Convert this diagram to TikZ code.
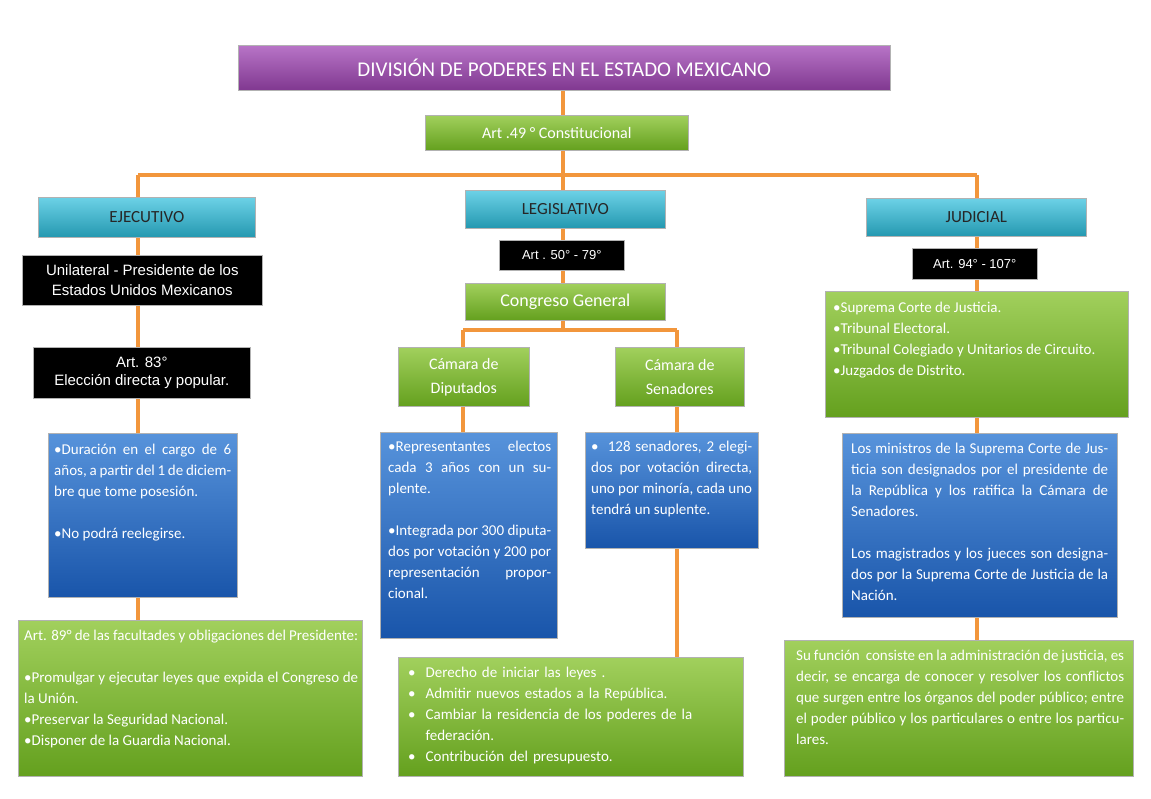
\documentclass[tikz,border=0pt]{standalone}
\usepackage{fontspec}
\setmainfont{Carlito}
\newfontfamily\arialf{Liberation Sans}
\definecolor{gr}{RGB}{138,196,52}
\definecolor{grd}{RGB}{100,160,30}
\definecolor{bl}{RGB}{45,120,210}
\definecolor{bld}{RGB}{25,85,170}
\definecolor{cy}{RGB}{45,190,220}
\definecolor{pu}{RGB}{160,70,180}
\definecolor{orl}{RGB}{242,150,60}
\begin{document}
\begin{tikzpicture}[x=1pt,y=-1pt,
 base/.style={anchor=north west,inner sep=0pt,text=white,font=\fontsize{15}{21}\selectfont,draw=white!70!black,line width=0.6pt},
 grn/.style={base,top color=gr!80!white,bottom color=grd},
 blu/.style={base,top color=bl!80!white,bottom color=bld},
 cya/.style={base,top color=cy!70!white,bottom color=cy!80!black,text=black!85},
 blk/.style={base,fill=black,font=\arialf\fontsize{14}{18}\selectfont},
 pur/.style={base,top color=pu!75!white,bottom color=pu!80!black},
 txt/.style={anchor=north west,inner sep=0pt,text=white,font=\fontsize{15}{21}\selectfont,align=justify},
 ln/.style={orl,line width=3.5pt}]
\useasboundingbox (0,0) rectangle (1151,799);
\fill[white] (0,0) rectangle (1151,799);
% connectors
\coordinate (h1) at (138,175); \coordinate (h2) at (977,175); \coordinate (hm) at (563,175);
\coordinate (c1) at (463,330); \coordinate (c2) at (677,330);
\draw[ln] (563,90) -- (563,300);
\draw[ln] (h1) -- (h2);
\draw[ln] (h1) -- (138,625);
\draw[ln] (h2) -- (977,645);
\draw[ln] (563,320) -- (563,330);
\draw[ln] (c1) -- (c2);
\draw[ln] (c1) -- (463,440);
\draw[ln] (c2) -- (677,660);
% boxes
\node[pur,minimum width=652,minimum height=45] (t) at (238,45) {};
\node[font=\fontsize{21}{24}\selectfont,text=white] at (t.center) {DIVISIÓN DE PODERES EN EL ESTADO MEXICANO};
\node[grn,minimum width=263,minimum height=35] (a49) at (425,115) {};
\node[text=white,font=\fontsize{16}{20}\selectfont] at (a49.center) {Art .49 ° Constitucional};
\node[cya,minimum width=217,minimum height=40] (ej) at (38,197) {};
\node[font=\fontsize{17}{20}\selectfont,text=black!85] at (ej.center) {EJECUTIVO};
\node[cya,minimum width=200,minimum height=38] (le) at (465,190) {};
\node[font=\fontsize{17}{20}\selectfont,text=black!85] at (le.center) {LEGISLATIVO};
\node[cya,minimum width=220,minimum height=38] (ju) at (866,198) {};
\node[font=\fontsize{17}{20}\selectfont,text=black!85] at (ju.center) {JUDICIAL};
\node[blk,minimum width=125,minimum height=30] (a50) at (499,240) {};
\node[text=white,font=\arialf\fontsize{13}{16}\selectfont] at (a50.center) {Art . 50° - 79°};
\node[blk,minimum width=125,minimum height=31] (a94) at (912,248) {};
\node[text=white,font=\arialf\fontsize{13}{16}\selectfont] at (a94.center) {Art. 94° - 107°};
\node[grn,minimum width=200,minimum height=37] (cg) at (465,283) {};
\node[text=white,font=\fontsize{18}{20}\selectfont] at (cg.center) {Congreso General};
\node[grn,minimum width=131,minimum height=59] (cd) at (398,347) {};
\node[text=white,align=center,font=\fontsize{16}{24}\selectfont] at (cd.center) {Cámara de\\Diputados};
\node[grn,minimum width=129,minimum height=59] (cs) at (615,347) {};
\node[text=white,align=center,font=\fontsize{16}{24}\selectfont] at (cs.center) {Cámara de\\Senadores};
\node[blk,minimum width=240,minimum height=50] (un) at (22,255) {};
\node[text=white,align=center,font=\arialf\fontsize{15}{20}\selectfont] at (un.center) {Unilateral - Presidente de los\\Estados Unidos Mexicanos};
\node[blk,minimum width=217,minimum height=51] (a83) at (33,347) {};
\node[text=white,align=center,font=\arialf\fontsize{15}{18}\selectfont] at (a83.center) {Art. 83°\\Elección directa y popular.};
\node[blu,minimum width=189,minimum height=164] (du) at (48,433) {};
\node[txt,text width=177] at (54,444) {•Duración en el cargo de 6 años, a partir del 1 de diciembre que tome posesión.\par\vspace{21pt}•No podrá reelegirse.};
\node[grn,minimum width=344,minimum height=156] (a89) at (18,620) {};
\node[txt,text width=334] at (24,630) {Art. 89° de las facultades y obligaciones del Presidente:\par\vspace{21pt}•Promulgar y ejecutar leyes que expida el Congreso de la Unión.\par•Preservar la Seguridad Nacional.\par•Disponer de la Guardia Nacional.};
\node[blu,minimum width=177,minimum height=206] (re) at (380,432) {};
\node[txt,text width=163] at (388,441) {•Representantes electos cada 3 años con un suplente.\par\vspace{21pt}•Integrada por 300 diputados por votación y 200 por representación proporcional.};
\node[blu,minimum width=173,minimum height=116] (se) at (585,432) {};
\node[txt,text width=161] at (591,441) {•\ \ 128 senadores, 2 elegidos por votación directa, uno por minoría, cada uno tendrá un suplente.};
\node[grn,minimum width=345,minimum height=119] (de) at (398,657) {};
\node[txt,text width=320,align=left] at (408,667) {•\ \ Derecho de iniciar las leyes .\\•\ \ Admitir nuevos estados a la República.\\•\ \ Cambiar la residencia de los poderes de la\\\phantom{•\ \ }federación.\\•\ \ Contribución del presupuesto.};
\node[grn,minimum width=303,minimum height=126] (sc) at (825,291) {};
\node[txt,text width=290] at (833,302) {•Suprema Corte de Justicia.\par•Tribunal Electoral.\par•Tribunal Colegiado y Unitarios de Circuito.\par•Juzgados de Distrito.};
\node[blu,minimum width=275,minimum height=184] (mi) at (842,433) {};
\node[txt,text width=257] at (851,443) {Los ministros de la Suprema Corte de Justicia son designados por el presidente de la República y los ratifica la Cámara de Senadores.\par\vspace{21pt}Los magistrados y los jueces son designados por la Suprema Corte de Justicia de la Nación.};
\node[grn,minimum width=349,minimum height=136] (fu) at (784,640) {};
\node[txt,text width=328] at (796,650) {Su función\ \ consiste en la administración de justicia, es decir, se encarga de conocer y resolver los conflictos que surgen entre los órganos del poder público; entre el poder público y los particulares o entre los particulares.};
\end{tikzpicture}
\end{document}
